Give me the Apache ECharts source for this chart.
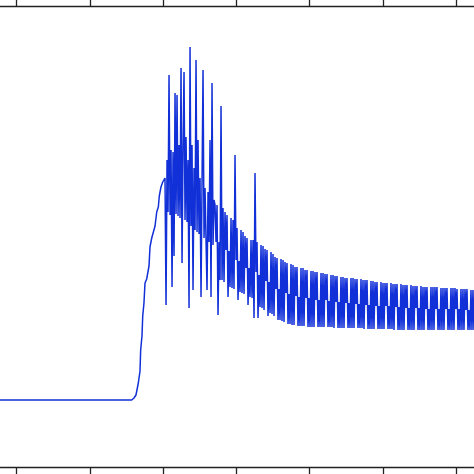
<!DOCTYPE html>
<html>
<head>
<meta charset="utf-8">
<script src="https://cdn.jsdelivr.net/npm/echarts@6/dist/echarts.min.js"></script>
<style>
html,body{margin:0;padding:0;background:#fff;}
#chart{width:474px;height:474px;}
</style>
</head>
<body>
<div id="chart"></div>
<script>
// ---- data ----
// x axis: tick every 100 units; y: arbitrary signal units
var xTicks = [0, 100, 200, 300, 400, 500, 600, 700, 800];

// flat baseline before the rise
var baseX = [0, 257.2];
var baseY = [100, 100];

// rising edge (step-like)
var riseX = [260.3, 263.0, 266.2, 268.5, 269.4, 271.2, 272.2, 273.9, 275.3, 277.6,
             279.8, 280.8, 282.1, 284.5, 286.6, 289.0, 291.3, 293.5, 294.8, 297.1,
             299.5, 302.6];
var riseY = [102, 105, 117, 129, 150, 164, 184, 197, 217, 221,
             230, 234, 253, 262, 264, 274, 288, 293, 304, 313,
             318, 322];

// oscillating part, uniformly sampled
var oscX0 = 304.0;
var oscDt = 1.364;
var oscY = [
  // transient burst
  195, 340, 288, 425, 285, 350, 213, 348, 244, 407,
  286, 405, 284, 355, 282, 432, 237, 352, 428, 280,
  363, 278, 340, 192, 453, 274, 355, 210, 332, 270,
  440, 268, 360, 266, 322, 203, 318, 430, 262, 312,
  260, 210, 308, 258, 360, 203, 417, 255, 300,
  // settling cycles
  295, 258, 295, 185, 258, 220, 394, 220, 292, 218,
  288, 250, 285, 203, 249, 213, 282, 212, 280, 211,
  345, 240, 272, 200, 239, 208, 270, 207, 268, 206,
  264, 232, 262, 195, 232, 203, 260, 202, 260, 182,
  327, 228, 258, 182, 225, 193, 255, 192, 254, 190,
  251, 219, 250, 184, 218, 187, 248, 186, 246, 184,
  243, 211, 242, 180, 211, 180, 241, 179, 240, 178,
  238, 207, 237, 176, 206, 176, 236, 175, 235, 175,
  233, 204, 233, 174, 203, 174, 232, 174, 232, 174,
  230, 202, 230, 173, 202, 173, 229, 173, 229, 173,
  228, 200, 228, 173, 200, 173, 227, 173, 227, 173,
  226, 200, 226, 173, 199, 173, 225, 173, 225, 172,
  224, 198, 224, 172, 198, 172, 223, 172, 223, 172,
  222, 197, 222, 172, 197, 172, 222, 172, 222, 172,
  221, 196, 221, 172, 196, 172, 221, 172, 220, 171,
  220, 195, 220, 171, 195, 171, 219, 171, 219, 171,
  218, 194, 218, 171, 194, 171, 218, 171, 217, 171,
  217, 194, 217, 171, 194, 171, 217, 171, 216, 170,
  216, 193, 216, 170, 193, 170, 216, 170, 215, 170,
  215, 192, 215, 170, 192, 170, 215, 170, 214, 170,
  214, 192, 214, 170, 192, 170, 214, 170, 213, 170,
  213, 191, 213, 170, 191, 170, 213, 170, 213, 170,
  213, 191, 213, 170, 191, 170, 212, 170, 212, 170,
  212, 191, 212, 170, 191, 170, 212, 170, 212, 170,
  212, 191, 211, 170, 191, 170, 211, 170, 211, 170,
  211, 190, 211, 170, 190, 170, 210, 170, 210, 170,
  210, 190, 210, 170, 190, 170
];

// ---- build series data ----
var seriesData = [];
for (var i = 0; i < baseX.length; i++) seriesData.push([baseX[i], baseY[i]]);
for (var j = 0; j < riseX.length; j++) seriesData.push([riseX[j], riseY[j]]);
for (var k = 0; k < oscY.length; k++) seriesData.push([oscX0 + k * oscDt, oscY[k]]);

var chart = echarts.init(document.getElementById('chart'), null, {renderer: 'canvas'});

var axisCommon = {
  type: 'value',
  min: xTicks[0],
  max: xTicks[xTicks.length - 1],
  interval: 100,
  axisLine: {show: true, lineStyle: {color: '#222', width: 1.3}},
  axisTick: {show: true, inside: false, length: 7, lineStyle: {color: '#222', width: 1.3}},
  axisLabel: {show: false},
  splitLine: {show: false}
};

chart.setOption({
  animation: false,
  backgroundColor: '#ffffff',
  grid: {left: -56.8, right: -55.6, top: 6, bottom: 7, containLabel: false, outerBoundsMode: 'none'},
  xAxis: [
    Object.assign({}, axisCommon, {position: 'bottom'}),
    Object.assign({}, axisCommon, {position: 'top'})
  ],
  yAxis: {
    type: 'value',
    min: 33,
    max: 494,
    axisLine: {show: false},
    axisTick: {show: false},
    axisLabel: {show: false},
    splitLine: {show: false}
  },
  series: [{
    type: 'line',
    data: seriesData,
    xAxisIndex: 0,
    showSymbol: false,
    symbol: 'none',
    lineStyle: {color: '#1230d8', width: 1.5, join: 'bevel'},
    silent: true
  }]
});
</script>
</body>
</html>
